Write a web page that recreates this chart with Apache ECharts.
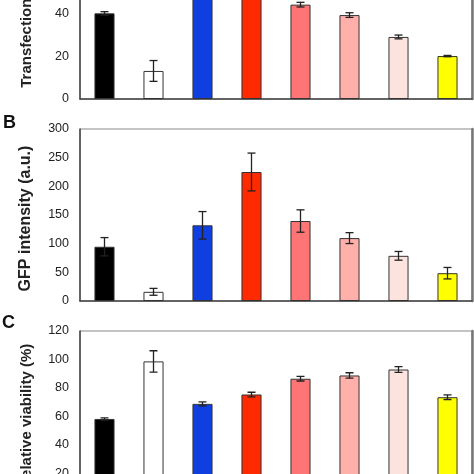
<!DOCTYPE html>
<html><head><meta charset="utf-8">
<script src="https://cdn.jsdelivr.net/npm/echarts@6/dist/echarts.min.js"></script>
<style>html,body{margin:0;padding:0;background:#fff}#c{width:474px;height:474px}</style>
</head><body><div id="c"></div>
<script>
const categories = ['1','2','3','4','5','6','7','8'];
const barColors = ['#000000','#ffffff','#0f3fe0','#ff2a00','#ff7474','#ffb0aa','#fde3de','#ffff00'];

const transfectionValues = [40.3, 13.2, 56, 68, 44.4, 39.5, 29.2, 20.2];
const transfectionErrors = [0.8, 4.9, 1.5, 1.5, 1.1, 1.1, 0.9, 0.3];
const transfectionTicks = [0, 20, 40, 60, 80, 100];

const gfpValues = [94.6, 16, 132, 225, 139.5, 109.7, 78.8, 48.5];
const gfpErrors = [16, 6, 24, 33, 19.5, 9.5, 7.6, 10];
const gfpTicks = [0, 50, 100, 150, 200, 250, 300];

const viabilityValues = [58.1, 98.6, 68.7, 75.3, 86.4, 88.7, 92.9, 73.4];
const viabilityErrors = [0.8, 7.5, 1.4, 1.6, 1.6, 1.9, 2.0, 1.6];
const viabilityTicks = [0, 20, 40, 60, 80, 100, 120];

const panels = [
  {name: 'Transfection efficiency (%)', values: transfectionValues, errors: transfectionErrors, ticks: transfectionTicks, top: -113.5, height: 212.5, fs: 15, pad: [0, 0, 0, 0]},
  {name: 'GFP intensity (a.u.)', values: gfpValues, errors: gfpErrors, ticks: gfpTicks, top: 129, height: 172, fs: 16, pad: [0, 7, 0, 0]},
  {name: 'Relative viability (%)', values: viabilityValues, errors: viabilityErrors, ticks: viabilityTicks, top: 331, height: 170.5, fs: 15, pad: [0, 0, 0, 0]}
];

const font = 'Liberation Sans, Arial, sans-serif';
const grid = [], xAxis = [], yAxis = [], series = [];
panels.forEach((p, i) => {
  grid.push({left: 80, width: 392, top: p.top, height: p.height, outerBoundsMode: 'none', containLabel: false,
    show: true, borderColor: '#888', borderWidth: 1, backgroundColor: '#fff'});
  xAxis.push({type: 'category', gridIndex: i, data: categories, axisTick: {show: false}, axisLabel: {show: false},
    axisLine: {lineStyle: {color: '#444', width: 1.5}}});
  const tmin = p.ticks[0], tmax = p.ticks[p.ticks.length - 1];
  yAxis.push({type: 'value', gridIndex: i, min: tmin, max: tmax, interval: p.ticks[1] - p.ticks[0],
    name: p.name, nameLocation: 'middle', nameGap: 46,
    nameTextStyle: {fontFamily: font, fontSize: p.fs, fontWeight: 'bold', color: '#222', padding: p.pad},
    axisLine: {show: true, lineStyle: {color: '#444', width: 1.5}}, axisTick: {show: false}, splitLine: {show: false},
    axisLabel: {fontFamily: font, fontSize: 12.5, color: '#222', margin: 11}});
  yAxis.push({type: 'value', gridIndex: i, min: tmin, max: tmax, position: 'right', axisLabel: {show: false}, axisTick: {show: false},
    splitLine: {show: false}, axisLine: {show: true, lineStyle: {color: '#777', width: 2.5}}});
  series.push({type: 'bar', xAxisIndex: i, yAxisIndex: 2 * i, barWidth: '41%',
    data: p.values.map((v, k) => ({value: v, itemStyle: {color: barColors[k], borderColor: '#333', borderWidth: 1}})),
    clip: true, z: 2});
  series.push({type: 'custom', xAxisIndex: i, yAxisIndex: 2 * i, z: 5, clip: true,
    data: p.values.map((v, k) => [k, v - p.errors[k], v + p.errors[k]]),
    renderItem: function (params, api) {
      const x = api.value(0);
      const lo = api.coord([x, api.value(1)]);
      const hi = api.coord([x, api.value(2)]);
      const w = 4;
      const st = {stroke: '#222', lineWidth: 1.3};
      return {type: 'group', children: [
        {type: 'line', shape: {x1: lo[0], y1: lo[1], x2: hi[0], y2: hi[1]}, style: st},
        {type: 'line', shape: {x1: lo[0] - w, y1: lo[1], x2: lo[0] + w, y2: lo[1]}, style: st},
        {type: 'line', shape: {x1: hi[0] - w, y1: hi[1], x2: hi[0] + w, y2: hi[1]}, style: st}
      ]};
    }});
});

const chart = echarts.init(document.getElementById('c'), null, {renderer: 'canvas'});
chart.setOption({
  animation: false,
  backgroundColor: '#fff',
  grid, xAxis, yAxis, series,
  graphic: [
    {type: 'text', left: 3, top: 114, style: {text: 'B', fontFamily: font, fontSize: 18, fontWeight: 'bold', fill: '#111'}},
    {type: 'text', left: 2, top: 314, style: {text: 'C', fontFamily: font, fontSize: 18, fontWeight: 'bold', fill: '#111'}}
  ]
});
</script></body></html>
